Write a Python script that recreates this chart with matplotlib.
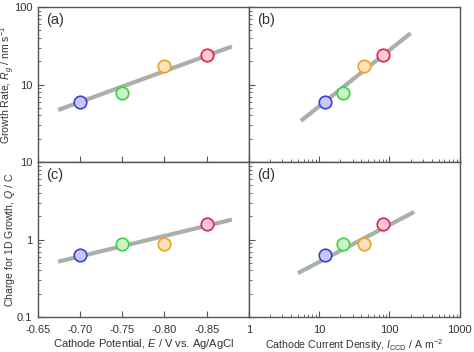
import numpy as np
import matplotlib.pyplot as plt
from matplotlib.ticker import FixedLocator, FixedFormatter, LogLocator, NullFormatter

plt.rcParams['font.family'] = ['Liberation Sans', 'DejaVu Sans']
plt.rcParams['mathtext.fontset'] = 'custom'
plt.rcParams['mathtext.it'] = 'Liberation Sans:italic'
plt.rcParams['mathtext.rm'] = 'Liberation Sans'

# data
potential = [-0.70, -0.75, -0.80, -0.85]
current = [12.2, 21.8, 42.8, 82.0]
growth_rate = [6.0, 7.7, 17.2, 24.4]
charge = [0.64, 0.89, 0.87, 1.57]

edge_colors = ['#3a3ee0', '#3ed13e', '#f0a030', '#e0204a']
face_colors = ['#c8caff', '#c8f5c8', '#ffe2b8', '#ffc8d6']

# fitted lines (end points)
fit_a_x = [-0.674, -0.880]
fit_a_y = [4.7, 31.0]
fit_b_x = [5.5, 200.0]
fit_b_y = [3.4, 46.0]
fit_c_x = [-0.674, -0.880]
fit_c_y = [0.52, 1.81]
fit_d_x = [5.0, 225.0]
fit_d_y = [0.37, 2.28]

text_col = '#333333'
spine_col = '#555555'
line_col = '#a8b0aa'
fs = 8

fig, axes = plt.subplots(2, 2, figsize=(4.74, 3.52), dpi=100)
fig.subplots_adjust(left=0.080, right=0.970, top=0.980, bottom=0.099,
                    wspace=0, hspace=0)
(ax_a, ax_b), (ax_c, ax_d) = axes

def draw(ax, x, y, fx, fy):
    ax.plot(fx, fy, color=line_col, lw=3, solid_capstyle='butt', zorder=2)
    for xi, yi, ec, fc in zip(x, y, edge_colors, face_colors):
        ax.plot(xi, yi, 'o', ms=9, mfc=fc, mec=ec, mew=1.2, zorder=3)

draw(ax_a, potential, growth_rate, fit_a_x, fit_a_y)
draw(ax_b, current, growth_rate, fit_b_x, fit_b_y)
draw(ax_c, potential, charge, fit_c_x, fit_c_y)
draw(ax_d, current, charge, fit_d_x, fit_d_y)

for ax in axes.flat:
    ax.set_yscale('log')
    for s in ax.spines.values():
        s.set_color(spine_col)
        s.set_linewidth(1.0)
    ax.tick_params(which='both', direction='in', colors=spine_col,
                   labelcolor=text_col, labelsize=fs, top=False, right=False)
    ax.tick_params(which='major', length=4)
    ax.tick_params(which='minor', length=2)
    ax.tick_params(axis='x', pad=6)
    ax.tick_params(axis='y', pad=4)
    ax.yaxis.set_minor_locator(LogLocator(base=10, subs=np.arange(2, 10)))
    ax.yaxis.set_minor_formatter(NullFormatter())

for ax in (ax_a, ax_c):
    ax.set_xlim(-0.65, -0.90)
    ax.xaxis.set_major_locator(FixedLocator([-0.65, -0.70, -0.75, -0.80, -0.85, -0.90]))
for ax in (ax_b, ax_d):
    ax.set_xscale('log')
    ax.set_xlim(1, 1000)
    ax.xaxis.set_minor_locator(LogLocator(base=10, subs=np.arange(2, 10)))
    ax.xaxis.set_minor_formatter(NullFormatter())

ax_a.set_ylim(1, 100)
ax_b.set_ylim(1, 100)
ax_c.set_ylim(0.1, 10)
ax_d.set_ylim(0.1, 10)

ax_a.yaxis.set_major_locator(FixedLocator([1, 10, 100]))
ax_a.yaxis.set_major_formatter(FixedFormatter(['', '10', '100']))
ax_c.yaxis.set_major_locator(FixedLocator([0.1, 1, 10]))
ax_c.yaxis.set_major_formatter(FixedFormatter(['0.1', '1', '10']))
ax_b.yaxis.set_major_locator(FixedLocator([1, 10, 100]))
ax_d.yaxis.set_major_locator(FixedLocator([0.1, 1, 10]))
ax_b.tick_params(axis='y', labelleft=False)
ax_d.tick_params(axis='y', labelleft=False)

ax_a.tick_params(axis='x', labelbottom=False)
ax_b.tick_params(axis='x', labelbottom=False)
ax_c.xaxis.set_major_formatter(FixedFormatter(['-0.65', '-0.70', '-0.75', '-0.80', '-0.85', '']))
ax_d.xaxis.set_major_locator(FixedLocator([1, 10, 100, 1000]))
ax_d.xaxis.set_major_formatter(FixedFormatter(['1', '10', '100', '1000']))

ax_a.set_ylabel('Growth Rate, $R_g$ / nm s$^{-1}$', fontsize=7.6, color=text_col)
ax_c.set_ylabel('Charge for 1D Growth, $Q$ / C', fontsize=7.6, color=text_col)
ax_a.yaxis.set_label_coords(-0.098, 0.5)
ax_c.yaxis.set_label_coords(-0.098, 0.5)
ax_c.set_xlabel('Cathode Potential, $E$ / V vs. Ag/AgCl', fontsize=fs, color=text_col, labelpad=1)
ax_d.set_xlabel('Cathode Current Density, $I_{\\mathrm{CCD}}$ / A m$^{-2}$', fontsize=7.6,
                color=text_col, labelpad=1)

for ax, lab in zip(axes.flat, ['(a)', '(b)', '(c)', '(d)']):
    ax.text(0.04, 0.96, lab, transform=ax.transAxes, ha='left', va='top',
            fontsize=10.5, color=text_col)

plt.savefig('out.png', dpi=100)
